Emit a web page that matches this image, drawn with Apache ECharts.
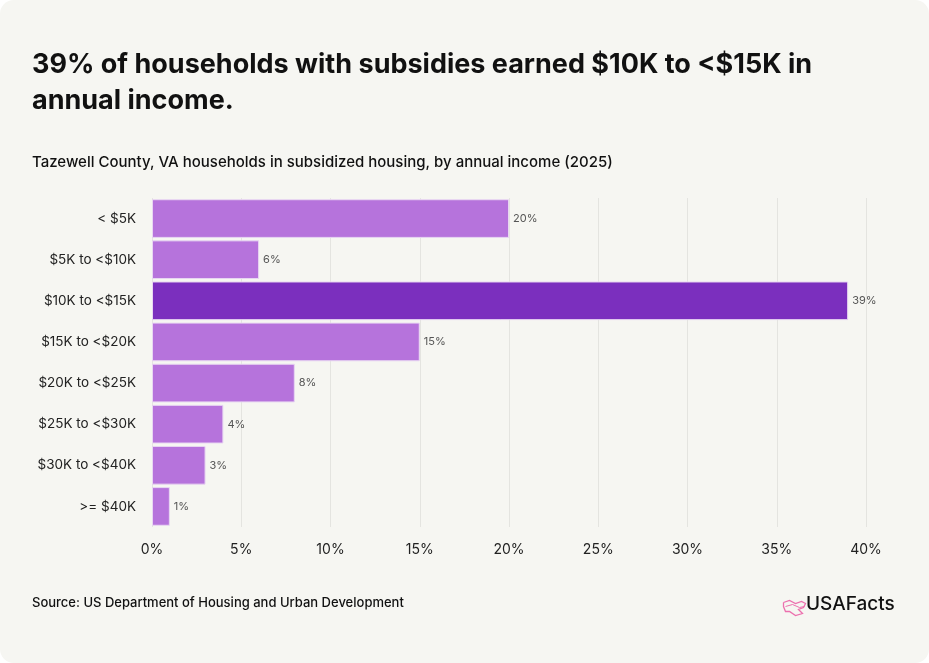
<!DOCTYPE html>
<html>
<head>
<meta charset="utf-8">
<script src="https://cdn.jsdelivr.net/npm/echarts@6/dist/echarts.min.js"></script>
<style>
  html, body { margin: 0; padding: 0; background: #ffffff; }
  #chart { width: 929px; height: 663px; background: #f6f6f2; border-radius: 14px; }
</style>
</head>
<body>
<div id="chart"></div>
<script>
var categories = ['< $5K', '$5K to <$10K', '$10K to <$15K', '$15K to <$20K', '$20K to <$25K', '$25K to <$30K', '$30K to <$40K', '>= $40K'];
var shares = [20, 6, 39, 15, 8, 4, 3, 1];
var highlight = '$10K to <$15K';

var font = 'Inter, "Noto Sans", sans-serif';

var barData = categories.map(function(c, i) {
	return {
		value: shares[i],
		itemStyle: { color: c === highlight ? '#7b2fbe' : '#b673dc' }
	};
});

var chart = echarts.init(document.getElementById('chart'));

chart.setOption({
	backgroundColor: 'transparent',
	textStyle: { fontFamily: font },
	grid: { left: 152, right: 63, top: 198, bottom: 136, containLabel: false },
	xAxis: {
		type: 'value',
		min: 0,
		max: 40,
		interval: 5,
		axisLine: { show: false },
		axisTick: { show: false },
		splitLine: { lineStyle: { color: '#e4e4e0', width: 1 } },
		axisLabel: { formatter: '{value}%', color: '#222', fontSize: 14, margin: 16 }
	},
	yAxis: {
		type: 'category',
		data: categories,
		inverse: true,
		axisLine: { show: false },
		axisTick: { show: false },
		axisLabel: { color: '#222', fontSize: 13.5, margin: 16 }
	},
	series: [{
		type: 'bar',
		data: barData,
		barCategoryGap: '6%',
		itemStyle: { borderColor: '#e8d6f2', borderWidth: 1 },
		label: {
			show: true,
			position: 'right',
			distance: 4,
			formatter: '{c}%',
			color: '#555',
			fontSize: 11
		}
	}],
	graphic: [
		{
			type: 'text', left: 32, top: 47,
			style: {
				text: '39% of households with subsidies earned $10K to <$15K in\nannual income.',
				fontSize: 27, fontWeight: 'bold', fill: '#111', lineHeight: 36, fontFamily: font
			}
		},
		{
			type: 'text', left: 32, top: 155,
			style: {
				text: 'Tazewell County, VA households in subsidized housing, by annual income (2025)',
				fontSize: 15, fontWeight: 500, fill: '#111', fontFamily: font
			}
		},
		{
			type: 'text', left: 32, top: 597,
			style: {
				text: 'Source: US Department of Housing and Urban Development',
				fontSize: 13, fontWeight: 500, fill: '#111', fontFamily: font
			}
		},
		{
			type: 'polyline', left: 781, top: 598,
			shape: {
				points: [[0, 2], [6, 0], [12, 3], [18, 1], [22, 3], [20, 7], [15, 9], [19, 13], [12, 15], [6, 11], [2, 11], [0, 6], [0, 2]]
			},
			style: { stroke: '#ec6fae', lineWidth: 1.3, fill: 'none' }
		},
		{
			type: 'polyline', left: 783, top: 602,
			shape: { points: [[0, 2], [7, 0], [14, 3], [19, 2]] },
			style: { stroke: '#ec6fae', lineWidth: 1, fill: 'none' }
		},
		{
			type: 'text', left: 806, top: 595,
			style: { text: 'USAFacts', fontSize: 19, fontWeight: 500, fill: '#111', fontFamily: font }
		}
	]
});
</script>
</body>
</html>
